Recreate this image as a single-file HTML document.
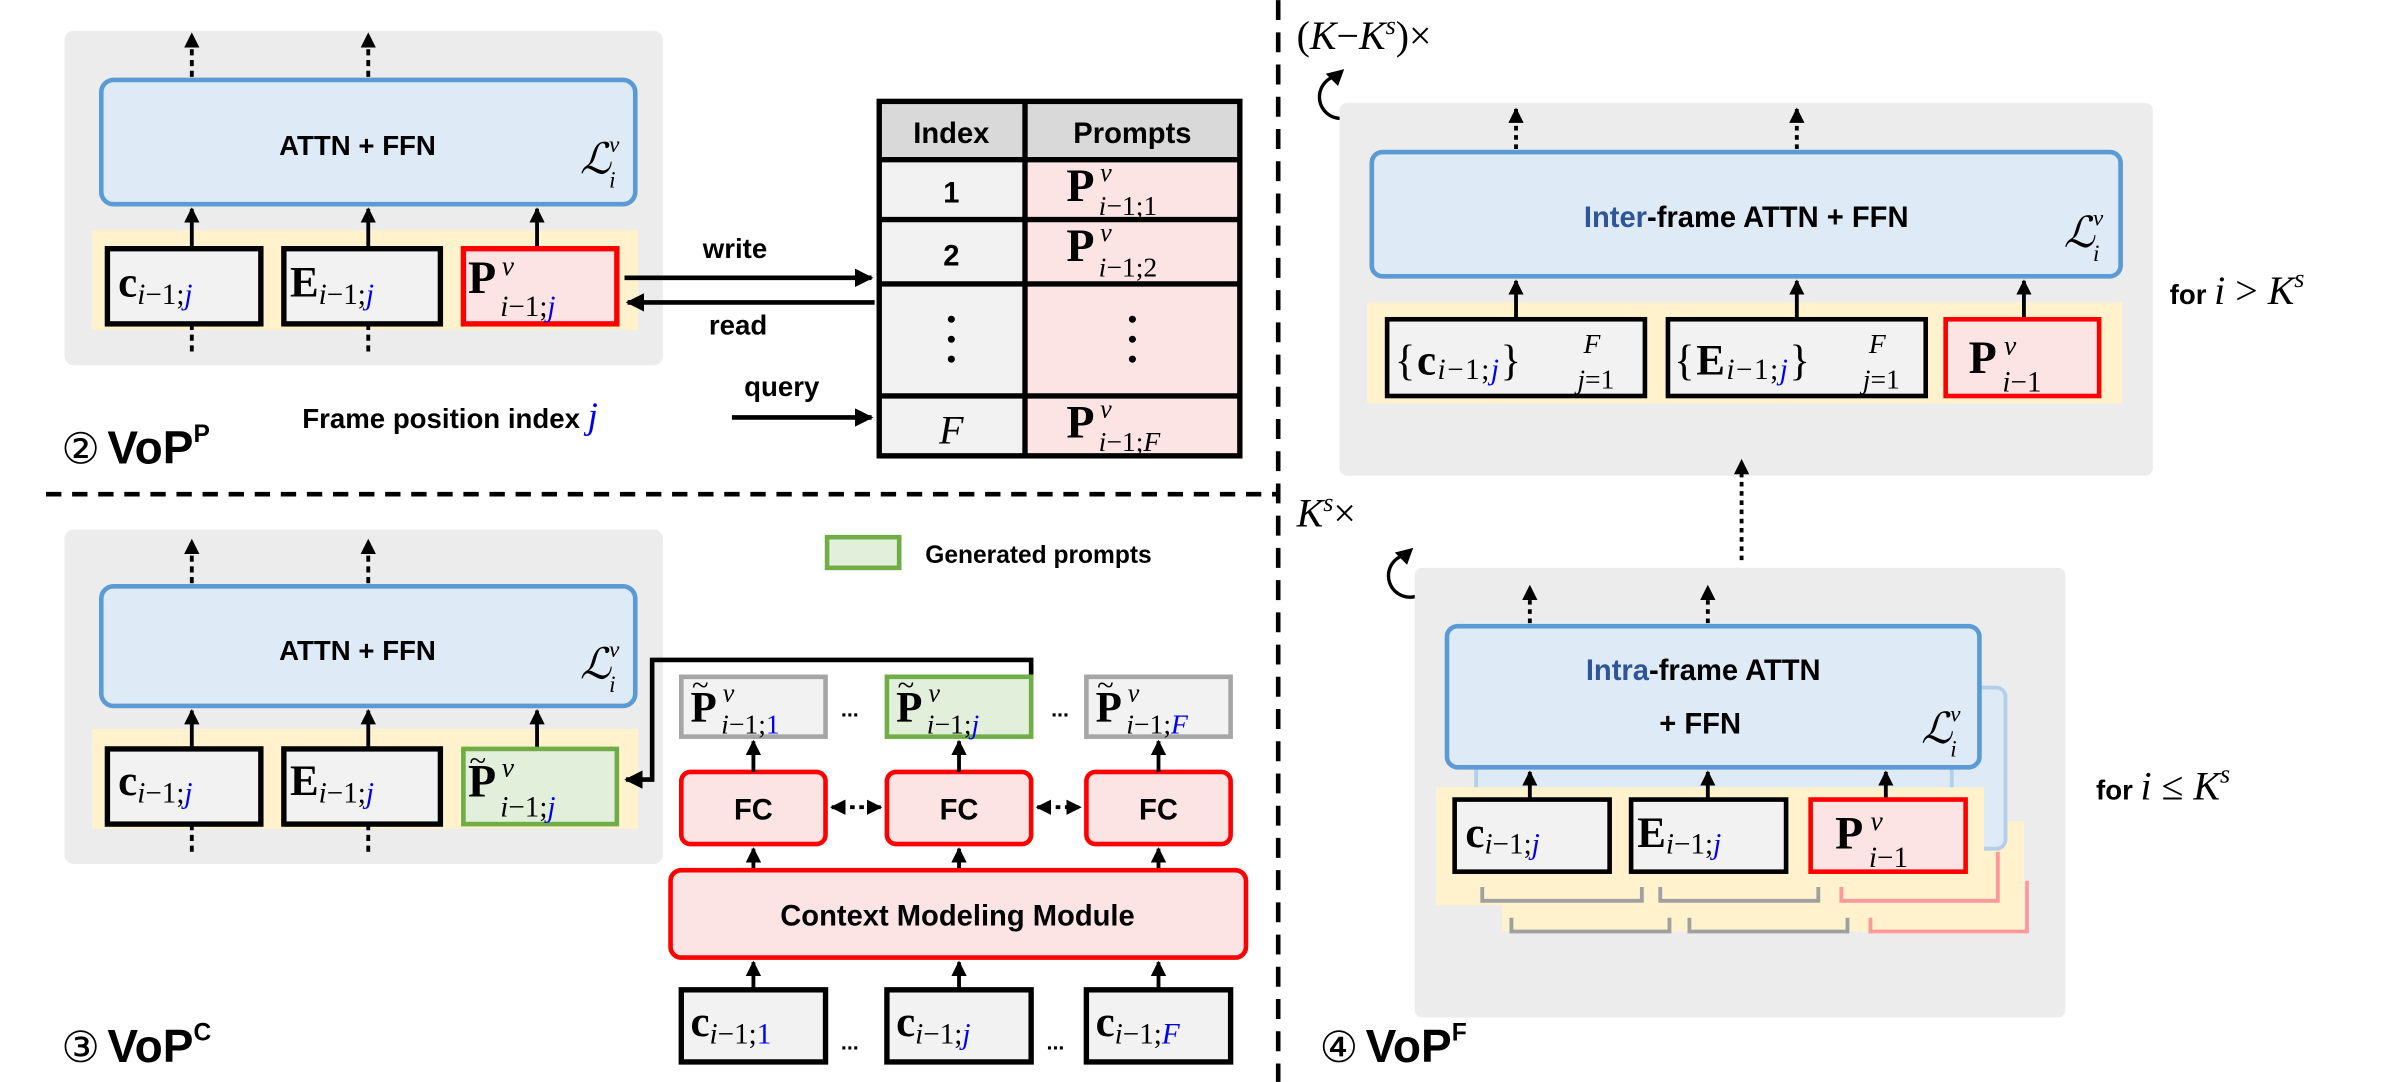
<!DOCTYPE html>
<html><head><meta charset="utf-8"><style>
html,body{margin:0;padding:0;background:#fff;width:2406px;height:1082px;overflow:hidden}
svg{display:block}
.s{font-family:"Liberation Sans",sans-serif;font-weight:bold}
.m{font-family:"Liberation Serif",serif}
.i{font-style:italic}
.bl{fill:#0000ee}
</style></head><body>
<svg width="2406" height="1082" viewBox="0 0 1568 705" xmlns="http://www.w3.org/2000/svg">
<defs>
<marker id="a" viewBox="0 0 10 10" refX="9" refY="5" markerWidth="4" markerHeight="4" orient="auto-start-reverse"><path d="M0,0L10,5L0,10z" fill="#000"/></marker>
</defs>
<line x1="30" y1="322" x2="833" y2="322" stroke="#000" stroke-width="3" stroke-dasharray="10,7"/>
<line x1="833" y1="0" x2="833" y2="705" stroke="#000" stroke-width="3" stroke-dasharray="13,8"/>

<!-- ===== Section 2 ===== -->
<rect x="42" y="20" width="390" height="218" rx="6" fill="#ececec"/>
<rect x="60" y="150" width="356" height="65" fill="#fff2cc"/>
<rect x="66" y="52" width="348" height="81" rx="8" fill="#deeaf6" stroke="#5b9bd5" stroke-width="3"/>
<text x="233" y="101" class="s" font-size="18" text-anchor="middle">ATTN + FFN</text>
<text x="378" y="113" class="m i" font-size="28">ℒ</text><text x="397" y="99" class="m i" font-size="15">v</text><text x="397" y="122" class="m i" font-size="15">i</text>
<g stroke="#000" stroke-width="2.5" fill="none">
<line x1="125" y1="162" x2="125" y2="136" marker-end="url(#a)"/>
<line x1="240" y1="162" x2="240" y2="136" marker-end="url(#a)"/>
<line x1="350" y1="162" x2="350" y2="136" marker-end="url(#a)"/>
<line x1="125" y1="50" x2="125" y2="22" stroke-dasharray="4,3" marker-end="url(#a)"/>
<line x1="240" y1="50" x2="240" y2="22" stroke-dasharray="4,3" marker-end="url(#a)"/>
<line x1="125" y1="211" x2="125" y2="232" stroke-dasharray="4,3"/>
<line x1="240" y1="211" x2="240" y2="232" stroke-dasharray="4,3"/>
</g>
<rect x="70" y="162" width="100" height="49" fill="#f2f2f2" stroke="#000" stroke-width="3.5"/>
<rect x="185" y="162" width="102" height="49" fill="#f2f2f2" stroke="#000" stroke-width="3.5"/>
<rect x="302" y="162" width="100" height="49" fill="#fde4e4" stroke="#f00" stroke-width="3.5"/>
<text x="77" y="193" class="m" font-size="28"><tspan font-weight="bold">c</tspan><tspan class="i" font-size="19" dy="5">i</tspan><tspan font-size="19">−1;</tspan><tspan class="i bl" font-size="19">j</tspan></text>
<text x="189" y="193" class="m" font-size="28"><tspan font-weight="bold">E</tspan><tspan class="i" font-size="19" dy="5">i</tspan><tspan font-size="19">−1;</tspan><tspan class="i bl" font-size="19">j</tspan></text>
<text x="305" y="191" class="m" font-size="30" font-weight="bold">P</text><text x="327" y="179" class="m i" font-size="18">v</text><text x="326" y="206" class="m" font-size="19"><tspan class="i">i</tspan>−1;<tspan class="i bl">j</tspan></text>
<g stroke="#000" stroke-width="3" fill="none">
<line x1="407" y1="181" x2="568" y2="181" marker-end="url(#a)"/>
<line x1="570" y1="197" x2="409" y2="197" marker-end="url(#a)"/>
<line x1="477" y1="272" x2="568" y2="272" marker-end="url(#a)"/>
</g>
<text x="458" y="168" class="s" font-size="18">write</text>
<text x="462" y="218" class="s" font-size="18">read</text>
<text x="485" y="258" class="s" font-size="18">query</text>
<text x="197" y="279" class="s" font-size="18">Frame position index <tspan class="m i bl" font-weight="normal" font-size="24">j</tspan></text>
<rect x="573" y="66" width="95" height="38" fill="#d9d9d9"/><rect x="668" y="66" width="140" height="38" fill="#d9d9d9"/>
<rect x="573" y="104" width="95" height="193" fill="#f2f2f2"/><rect x="668" y="104" width="140" height="193" fill="#fde4e4"/>
<g stroke="#000" stroke-width="3.5" fill="none">
<rect x="573" y="66" width="235" height="231"/>
<line x1="668" y1="66" x2="668" y2="297"/>
<line x1="573" y1="104" x2="808" y2="104"/><line x1="573" y1="143" x2="808" y2="143"/>
<line x1="573" y1="185" x2="808" y2="185"/><line x1="573" y1="258" x2="808" y2="258"/>
</g>
<text x="620" y="93" class="s" font-size="19" text-anchor="middle">Index</text>
<text x="738" y="93" class="s" font-size="19" text-anchor="middle">Prompts</text>
<text x="620" y="132" class="s" font-size="19" text-anchor="middle">1</text>
<text x="620" y="173" class="s" font-size="19" text-anchor="middle">2</text>
<text x="620" y="289" class="m i" font-size="26" text-anchor="middle">F</text>
<g fill="#000"><circle cx="620" cy="208" r="2.3"/><circle cx="620" cy="221" r="2.3"/><circle cx="620" cy="234" r="2.3"/><circle cx="738" cy="208" r="2.3"/><circle cx="738" cy="221" r="2.3"/><circle cx="738" cy="234" r="2.3"/></g>
<text x="695" y="131" class="m" font-size="30" font-weight="bold">P</text><text x="717" y="118" class="m i" font-size="17">v</text><text x="716" y="140" class="m" font-size="18"><tspan class="i">i</tspan>−1;1</text>
<text x="695" y="170" class="m" font-size="30" font-weight="bold">P</text><text x="717" y="157" class="m i" font-size="17">v</text><text x="716" y="180" class="m" font-size="18"><tspan class="i">i</tspan>−1;2</text>
<text x="695" y="285" class="m" font-size="30" font-weight="bold">P</text><text x="717" y="272" class="m i" font-size="17">v</text><text x="716" y="294" class="m" font-size="18"><tspan class="i">i</tspan>−1;<tspan class="i">F</tspan></text>
<text x="40" y="302" font-family="DejaVu Sans,sans-serif" font-size="28">②</text>
<text x="70" y="302" class="s" font-size="30">VoP<tspan font-size="16" dy="-14">P</tspan></text>

<!-- ===== Section 3 ===== -->
<rect x="42" y="345" width="390" height="218" rx="6" fill="#ececec"/>
<rect x="60" y="475" width="356" height="65" fill="#fff2cc"/>
<rect x="66" y="382" width="348" height="78" rx="8" fill="#deeaf6" stroke="#5b9bd5" stroke-width="3"/>
<text x="233" y="430" class="s" font-size="18" text-anchor="middle">ATTN + FFN</text>
<text x="378" y="442" class="m i" font-size="28">ℒ</text><text x="397" y="428" class="m i" font-size="15">v</text><text x="397" y="451" class="m i" font-size="15">i</text>
<g stroke="#000" stroke-width="2.5" fill="none">
<line x1="125" y1="488" x2="125" y2="463" marker-end="url(#a)"/>
<line x1="240" y1="488" x2="240" y2="463" marker-end="url(#a)"/>
<line x1="350" y1="488" x2="350" y2="463" marker-end="url(#a)"/>
<line x1="125" y1="380" x2="125" y2="352" stroke-dasharray="4,3" marker-end="url(#a)"/>
<line x1="240" y1="380" x2="240" y2="352" stroke-dasharray="4,3" marker-end="url(#a)"/>
<line x1="125" y1="537" x2="125" y2="558" stroke-dasharray="4,3"/>
<line x1="240" y1="537" x2="240" y2="558" stroke-dasharray="4,3"/>
</g>
<rect x="70" y="488" width="100" height="49" fill="#f2f2f2" stroke="#000" stroke-width="3.5"/>
<rect x="185" y="488" width="102" height="49" fill="#f2f2f2" stroke="#000" stroke-width="3.5"/>
<rect x="302" y="488" width="100" height="49" fill="#e2efda" stroke="#70ad47" stroke-width="3"/>
<text x="77" y="518" class="m" font-size="28"><tspan font-weight="bold">c</tspan><tspan class="i" font-size="19" dy="5">i</tspan><tspan font-size="19">−1;</tspan><tspan class="i bl" font-size="19">j</tspan></text>
<text x="189" y="518" class="m" font-size="28"><tspan font-weight="bold">E</tspan><tspan class="i" font-size="19" dy="5">i</tspan><tspan font-size="19">−1;</tspan><tspan class="i bl" font-size="19">j</tspan></text>
<text x="305" y="519" class="m" font-size="30" font-weight="bold">P</text><text x="306" y="502" class="m" font-size="20">~</text><text x="327" y="506" class="m i" font-size="18">v</text><text x="326" y="532" class="m" font-size="19"><tspan class="i">i</tspan>−1;<tspan class="i bl">j</tspan></text>
<rect x="539" y="350" width="47" height="20" fill="#e2efda" stroke="#70ad47" stroke-width="3"/>
<text x="603" y="367" class="s" font-size="16">Generated prompts</text>
<polyline points="672,441 672,430 425,430 425,508 408,508" fill="none" stroke="#000" stroke-width="3" marker-end="url(#a)"/>
<rect x="444" y="441" width="94" height="39" fill="#f2f2f2" stroke="#a6a6a6" stroke-width="3"/>
<rect x="578" y="441" width="94" height="39" fill="#e2efda" stroke="#70ad47" stroke-width="3"/>
<rect x="708" y="441" width="94" height="39" fill="#f2f2f2" stroke="#a6a6a6" stroke-width="3"/>
<text x="450" y="470" class="m" font-size="28" font-weight="bold">P</text><text x="451" y="453" class="m" font-size="20">~</text><text x="471" y="457" class="m i" font-size="17">v</text><text x="470" y="478" class="m" font-size="18"><tspan class="i">i</tspan>−1;<tspan class="bl">1</tspan></text>
<text x="584" y="470" class="m" font-size="28" font-weight="bold">P</text><text x="585" y="453" class="m" font-size="20">~</text><text x="605" y="457" class="m i" font-size="17">v</text><text x="604" y="478" class="m" font-size="18"><tspan class="i">i</tspan>−1;<tspan class="i bl">j</tspan></text>
<text x="714" y="470" class="m" font-size="28" font-weight="bold">P</text><text x="715" y="453" class="m" font-size="20">~</text><text x="735" y="457" class="m i" font-size="17">v</text><text x="734" y="478" class="m" font-size="18"><tspan class="i">i</tspan>−1;<tspan class="i bl">F</tspan></text>
<text x="548" y="467" class="s" font-size="14">...</text><text x="685" y="467" class="s" font-size="14">...</text>
<rect x="444" y="503" width="94" height="47" rx="6" fill="#fde4e4" stroke="#f00" stroke-width="3"/>
<rect x="578" y="503" width="94" height="47" rx="6" fill="#fde4e4" stroke="#f00" stroke-width="3"/>
<rect x="708" y="503" width="94" height="47" rx="6" fill="#fde4e4" stroke="#f00" stroke-width="3"/>
<text x="491" y="534" class="s" font-size="19" text-anchor="middle">FC</text>
<text x="625" y="534" class="s" font-size="19" text-anchor="middle">FC</text>
<text x="755" y="534" class="s" font-size="19" text-anchor="middle">FC</text>
<g stroke="#000" stroke-width="2.5" fill="none">
<line x1="542" y1="526" x2="574" y2="526" stroke-dasharray="3,3" marker-start="url(#a)" marker-end="url(#a)"/>
<line x1="676" y1="526" x2="704" y2="526" stroke-dasharray="3,3" marker-start="url(#a)" marker-end="url(#a)"/>
<line x1="491" y1="503" x2="491" y2="483" marker-end="url(#a)"/>
<line x1="625" y1="503" x2="625" y2="483" marker-end="url(#a)"/>
<line x1="755" y1="503" x2="755" y2="483" marker-end="url(#a)"/>
<line x1="491" y1="567" x2="491" y2="553" marker-end="url(#a)"/>
<line x1="625" y1="567" x2="625" y2="553" marker-end="url(#a)"/>
<line x1="755" y1="567" x2="755" y2="553" marker-end="url(#a)"/>
<line x1="491" y1="645" x2="491" y2="627" marker-end="url(#a)"/>
<line x1="625" y1="645" x2="625" y2="627" marker-end="url(#a)"/>
<line x1="755" y1="645" x2="755" y2="627" marker-end="url(#a)"/>
</g>
<rect x="437" y="567" width="375" height="57" rx="7" fill="#fde4e4" stroke="#f00" stroke-width="3"/>
<text x="624" y="603" class="s" font-size="19" text-anchor="middle">Context Modeling Module</text>
<rect x="444" y="645" width="94" height="47" fill="#f2f2f2" stroke="#000" stroke-width="3.5"/>
<rect x="578" y="645" width="94" height="47" fill="#f2f2f2" stroke="#000" stroke-width="3.5"/>
<rect x="708" y="645" width="94" height="47" fill="#f2f2f2" stroke="#000" stroke-width="3.5"/>
<text x="450" y="675" class="m" font-size="28"><tspan font-weight="bold">c</tspan><tspan class="i" font-size="19" dy="5">i</tspan><tspan font-size="19">−1;</tspan><tspan class="bl" font-size="19">1</tspan></text>
<text x="584" y="675" class="m" font-size="28"><tspan font-weight="bold">c</tspan><tspan class="i" font-size="19" dy="5">i</tspan><tspan font-size="19">−1;</tspan><tspan class="i bl" font-size="19">j</tspan></text>
<text x="714" y="675" class="m" font-size="28"><tspan font-weight="bold">c</tspan><tspan class="i" font-size="19" dy="5">i</tspan><tspan font-size="19">−1;</tspan><tspan class="i bl" font-size="19">F</tspan></text>
<text x="548" y="684" class="s" font-size="14">...</text><text x="682" y="684" class="s" font-size="14">...</text>
<text x="40" y="692" font-family="DejaVu Sans,sans-serif" font-size="28">③</text>
<text x="70" y="692" class="s" font-size="30">VoP<tspan font-size="16" dy="-14">C</tspan></text>

<!-- ===== Section 4 ===== -->
<text x="845" y="32" class="m" font-size="26"><tspan>(</tspan><tspan class="i">K</tspan><tspan>−</tspan><tspan class="i">K</tspan><tspan class="i" font-size="17" dy="-10">s</tspan><tspan dy="10">)×</tspan></text>
<path d="M869,50 A14,14 0 1,0 887,68" fill="none" stroke="#000" stroke-width="2.2"/><path d="M864,48 L876,45 L872,56z" fill="#000"/>
<rect x="873" y="67" width="530" height="243" rx="5" fill="#ececec"/>
<rect x="891" y="197" width="492" height="66" fill="#fff2cc"/>
<rect x="894" y="99" width="488" height="81" rx="7" fill="#deeaf6" stroke="#5b9bd5" stroke-width="3"/>
<text x="1138" y="148" class="s" font-size="19" text-anchor="middle"><tspan fill="#2e5597">Inter</tspan>-frame ATTN + FFN</text>
<text x="1345" y="161" class="m i" font-size="28">ℒ</text><text x="1364" y="147" class="m i" font-size="15">v</text><text x="1364" y="170" class="m i" font-size="15">i</text>
<g stroke="#000" stroke-width="2.5" fill="none">
<line x1="988" y1="207" x2="988" y2="183" marker-end="url(#a)"/>
<line x1="1171" y1="207" x2="1171" y2="183" marker-end="url(#a)"/>
<line x1="1319" y1="207" x2="1319" y2="183" marker-end="url(#a)"/>
<line x1="988" y1="97" x2="988" y2="71" stroke-dasharray="3,3" marker-end="url(#a)"/>
<line x1="1171" y1="97" x2="1171" y2="71" stroke-dasharray="3,3" marker-end="url(#a)"/>
<line x1="1135" y1="365" x2="1135" y2="300" stroke-dasharray="3,3" marker-end="url(#a)"/>
</g>
<rect x="904" y="208" width="168" height="50" fill="#f2f2f2" stroke="#000" stroke-width="3"/>
<rect x="1087" y="208" width="168" height="50" fill="#f2f2f2" stroke="#000" stroke-width="3"/>
<rect x="1268" y="208" width="100" height="50" fill="#fde4e4" stroke="#f00" stroke-width="3"/>
<text x="909" y="244" class="m" font-size="28" letter-spacing="1">{<tspan font-weight="bold">c</tspan><tspan class="i" font-size="19" dy="3">i</tspan><tspan font-size="19">−1;</tspan><tspan class="i bl" font-size="19">j</tspan><tspan dy="-3">}</tspan></text>
<text x="1032" y="230" class="m i" font-size="18">F</text><text x="1028" y="253" class="m" font-size="18"><tspan class="i">j</tspan>=1</text>
<text x="1091" y="244" class="m" font-size="28" letter-spacing="1">{<tspan font-weight="bold">E</tspan><tspan class="i" font-size="19" dy="3">i</tspan><tspan font-size="19">−1;</tspan><tspan class="i bl" font-size="19">j</tspan><tspan dy="-3">}</tspan></text>
<text x="1218" y="230" class="m i" font-size="18">F</text><text x="1214" y="253" class="m" font-size="18"><tspan class="i">j</tspan>=1</text>
<text x="1283" y="243" class="m" font-size="30" font-weight="bold">P</text><text x="1306" y="231" class="m i" font-size="18">v</text><text x="1305" y="255" class="m" font-size="19"><tspan class="i">i</tspan>−1</text>
<text x="1414" y="198" class="s" font-size="18">for <tspan class="m i" font-weight="normal" font-size="26">i</tspan><tspan class="m" font-weight="normal" font-size="26"> &gt; </tspan><tspan class="m i" font-weight="normal" font-size="26">K</tspan><tspan class="m i" font-weight="normal" font-size="17" dy="-11">s</tspan></text>

<text x="845" y="343" class="m" font-size="26"><tspan class="i">K</tspan><tspan class="i" font-size="17" dy="-10">s</tspan><tspan dy="10">×</tspan></text>
<path d="M914,362 A14,14 0 1,0 932,380" fill="none" stroke="#000" stroke-width="2.2"/><path d="M909,360 L921,357 L917,368z" fill="#000"/>
<rect x="922" y="370" width="424" height="293" rx="5" fill="#ececec"/>
<rect x="961" y="515" width="340" height="72" fill="#fff2cc"/>
<rect x="979" y="535" width="340" height="72" fill="#fff2cc"/>
<rect x="981" y="448" width="326" height="105" rx="6" fill="#deeaf6" stroke="#b4cfe9" stroke-width="2.5"/>
<rect x="962" y="428" width="310" height="105" rx="6" fill="#deeaf6" stroke="#b4cfe9" stroke-width="2.5"/>
<rect x="936" y="513" width="357" height="77" fill="#fff2cc"/>
<g fill="none" stroke-width="2.5">
<polyline points="966,578 966,587 1070,587 1070,578" stroke="#a0a0a0"/>
<polyline points="1082,578 1082,587 1185,587 1185,578" stroke="#a0a0a0"/>
<polyline points="1200,578 1200,587 1302,587 1302,555" stroke="#ff9999"/>
<polyline points="985,598 985,607 1088,607 1088,598" stroke="#a0a0a0"/>
<polyline points="1101,598 1101,607 1204,607 1204,598" stroke="#a0a0a0"/>
<polyline points="1219,598 1219,607 1321,607 1321,574" stroke="#ff9999"/>
</g>
<rect x="943" y="408" width="347" height="92" rx="7" fill="#deeaf6" stroke="#5b9bd5" stroke-width="3"/>
<text x="1110" y="443" class="s" font-size="19" text-anchor="middle"><tspan fill="#2e5597">Intra</tspan>-frame ATTN</text>
<text x="1108" y="478" class="s" font-size="19" text-anchor="middle">+ FFN</text>
<text x="1252" y="484" class="m i" font-size="28">ℒ</text><text x="1271" y="470" class="m i" font-size="15">v</text><text x="1271" y="493" class="m i" font-size="15">i</text>
<g stroke="#000" stroke-width="2.5" fill="none">
<line x1="997" y1="520" x2="997" y2="503" marker-end="url(#a)"/>
<line x1="1113" y1="520" x2="1113" y2="503" marker-end="url(#a)"/>
<line x1="1229" y1="520" x2="1229" y2="503" marker-end="url(#a)"/>
<line x1="997" y1="406" x2="997" y2="382" stroke-dasharray="3,3" marker-end="url(#a)"/>
<line x1="1113" y1="406" x2="1113" y2="382" stroke-dasharray="3,3" marker-end="url(#a)"/>
</g>
<rect x="948" y="521" width="101" height="47" fill="#f2f2f2" stroke="#000" stroke-width="3"/>
<rect x="1063" y="521" width="101" height="47" fill="#f2f2f2" stroke="#000" stroke-width="3"/>
<rect x="1180" y="521" width="101" height="47" fill="#fde4e4" stroke="#f00" stroke-width="3"/>
<text x="955" y="552" class="m" font-size="28"><tspan font-weight="bold">c</tspan><tspan class="i" font-size="19" dy="4">i</tspan><tspan font-size="19">−1;</tspan><tspan class="i bl" font-size="19">j</tspan></text>
<text x="1067" y="552" class="m" font-size="28"><tspan font-weight="bold">E</tspan><tspan class="i" font-size="19" dy="4">i</tspan><tspan font-size="19">−1;</tspan><tspan class="i bl" font-size="19">j</tspan></text>
<text x="1196" y="553" class="m" font-size="30" font-weight="bold">P</text><text x="1219" y="541" class="m i" font-size="18">v</text><text x="1218" y="565" class="m" font-size="19"><tspan class="i">i</tspan>−1</text>
<text x="1366" y="521" class="s" font-size="18">for <tspan class="m i" font-weight="normal" font-size="26">i</tspan><tspan class="m" font-weight="normal" font-size="26"> ≤ </tspan><tspan class="m i" font-weight="normal" font-size="26">K</tspan><tspan class="m i" font-weight="normal" font-size="17" dy="-11">s</tspan></text>
<text x="860" y="692" font-family="DejaVu Sans,sans-serif" font-size="28">④</text>
<text x="890" y="692" class="s" font-size="30">VoP<tspan font-size="16" dy="-14">F</tspan></text>
</svg>
</body></html>
